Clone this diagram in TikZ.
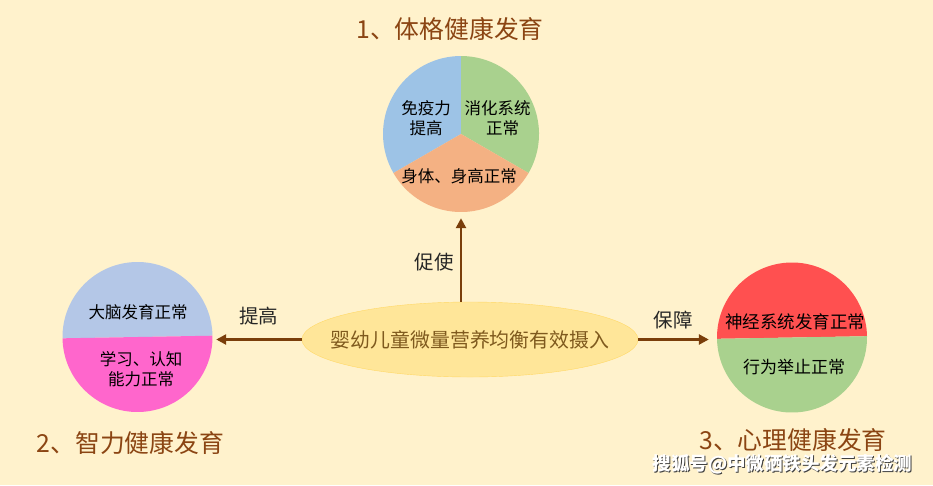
\documentclass[tikz,border=0pt]{standalone}
\usepackage{fontspec}
\setmainfont{Noto Sans CJK SC}
\usetikzlibrary{arrows.meta,positioning,shapes.geometric}

\definecolor{bgcream}{HTML}{FFF2CC}
\definecolor{pieblue}{HTML}{9DC3E6}
\definecolor{piegreen}{HTML}{A9D18E}
\definecolor{pieorange}{HTML}{F4B183}
\definecolor{piegrey}{HTML}{B4C7E7}
\definecolor{piepink}{HTML}{FF66CC}
\definecolor{piered}{HTML}{FF5050}
\definecolor{ellfill}{HTML}{FFE699}
\definecolor{elldraw}{HTML}{FFD966}
\definecolor{elltext}{HTML}{7F5A1E}
\definecolor{arrowbrown}{HTML}{7A3E0A}
\definecolor{titlebrown}{HTML}{8B4513}

\begin{document}
\begin{tikzpicture}[x=1pt,y=1pt]
    \tikzset{pie/.style= {circle, inner sep=0pt
      , minimum size=150pt
      },
      lbl/.style= {align=center, text=black
      , font=\fontsize{16.5}{20}\selectfont
      },
      title/.style= {text=titlebrown
      , font=\fontsize{24.8}{28}\selectfont
      },
      link/.style= {draw=arrowbrown, line width=2.6pt
      , -{Triangle[length=10pt,width=10pt]}
      },
      linklbl/.style= {text=black!85, inner sep=0pt
      , font=\fontsize{19.5}{22}\selectfont
      }
    }

\fill[bgcream] (0,0) rectangle (933,-485);
\useasboundingbox (0,0) rectangle (933,-485);

% top pie
\node [pie, minimum size=156pt] (toppie) at (461,-134) {};
\fill[pieblue] (toppie.center) -- ++(90:78pt) arc[start angle=90, end angle=210, radius=78pt] -- cycle;
\fill[piegreen] (toppie.center) -- ++(-30:78pt) arc[start angle=-30, end angle=90, radius=78pt] -- cycle;
\fill[pieorange] (toppie.center) -- ++(210:78pt) arc[start angle=210, end angle=330, radius=78pt] -- cycle;

% left pie
\node [pie] (leftpie) at (137.5,-337) {};
\fill[piegrey] (leftpie.center) -- ++(1:75pt) arc[start angle=1, end angle=181, radius=75pt] -- cycle;
\fill[piepink] (leftpie.center) -- ++(181:75pt) arc[start angle=181, end angle=361, radius=75pt] -- cycle;

% right pie
\node [pie] (rightpie) at (792,-337.5) {};
\fill[piered] (rightpie.center) -- ++(1:75pt) arc[start angle=1, end angle=181, radius=75pt] -- cycle;
\fill[piegreen] (rightpie.center) -- ++(181:75pt) arc[start angle=181, end angle=361, radius=75pt] -- cycle;

% sector texts
\node [lbl] (immune) at (426,-118) {免疫力\\提高};
\node [lbl] (digest) at (497.5,-118) {消化系统\\\hspace*{10pt}正常};
\node [lbl] (growth) at (459,-176) {身体、身高正常};
\node [lbl] (brain) at (138,-312) {大脑发育正常};
\node [lbl] (learn) at (141,-369) {学习、认知\\能力正常};
\node [lbl, font=\fontsize{17.5}{21}\selectfont] (nerve) at (795,-322) {神经系统发育正常};
\node [lbl, font=\fontsize{17}{20}\selectfont] (behave) at (794,-367) {行为举止正常};

% centre
\node [ellipse, draw=elldraw, fill=ellfill, inner sep=0pt
  , minimum width=336pt, minimum height=75pt
  , label={[text=elltext, font=\fontsize{19.9}{22}\selectfont]center:婴幼儿童微量营养均衡有效摄入}
  ] (intake) at (470,-339.5) {};

 \path[link, shorten >=6pt]
  (intake.north -| toppie) -- node[linklbl, left=6pt, yshift=-5pt] {促使} (toppie.south);
 \path[link, shorten >=3.5pt]
  (intake.west) -- node[linklbl, above=13pt, xshift=1.5pt] {提高} (intake.west -| leftpie.east);
 \path[link, shorten >=8pt]
  (intake.east) -- node[linklbl, above=9pt, xshift=-4.5pt] {保障} (intake.east -| rightpie.west);

% titles
\node [title] (title1) at (450,-29) {1、体格健康发育};
\node [title] (title2) at (130.5,-443) {2、智力健康发育};
\node [title] (title3) at (793,-440) {3、心理健康发育};

% watermark
\node [text=black!75, font=\fontsize{18.5}{20}\selectfont\bfseries] at (783.5,-465) {搜狐号@中微硒铁头发元素检测};
\node [text=white, font=\fontsize{18.5}{20}\selectfont\bfseries] (mark) at (782.5,-464) {搜狐号@中微硒铁头发元素检测};
\end{tikzpicture}
\end{document}
